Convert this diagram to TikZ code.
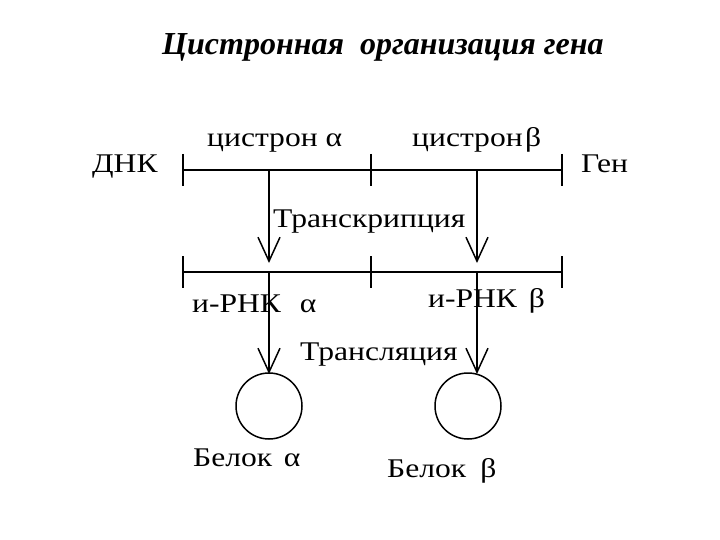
\documentclass[tikz,border=0pt]{standalone}
\usepackage{fontspec}
\usepackage{graphicx}
\setmainfont{Liberation Serif}
\usetikzlibrary{arrows.meta,calc}
\newcommand{\wide}[1]{\scalebox{1.17}[1]{#1}}
\tikzset{
  lab/.style={anchor=base west, inner sep=0pt, font=\fontsize{27}{27}\selectfont},
  ttl/.style={anchor=base, inner sep=0pt, font=\fontsize{32}{32}\selectfont\bfseries\itshape},
  ln/.style={line width=1.5pt},
  arr/.style={line width=1.5pt, -{Straight Barb[length=24pt,width=22pt,line width=1.5pt]}},
  prot/.style={draw, line width=1.5pt, circle, minimum size=66pt, inner sep=0pt}
}
\begin{document}
\begin{tikzpicture}[x=1pt,y=-1pt]
\useasboundingbox[fill=white] (0,0) rectangle (720,540);
\node[ttl] (title) at (383,55) {Цистронная\ \ организация гена};
% DNA line
\coordinate (dL) at (183,170); \coordinate (dM) at (371,170); \coordinate (dR) at (562,170);
\coordinate (mL) at (183,272); \coordinate (mM) at (371,272); \coordinate (mR) at (562,272);
\draw[ln] (dL) -- (dR);
\draw[ln] (mL) -- (mR);
\foreach \p in {dL,dM,dR,mL,mM,mR} \draw[ln] ($(\p)+(0,-16)$) -- ($(\p)+(0,16)$);
\coordinate (s1) at (269,170); \coordinate (s2) at (477,170);
\coordinate (t1) at (269,263); \coordinate (t2) at (477,263);
\coordinate (u1) at (269,272); \coordinate (u2) at (477,272);
\node[prot] (p1) at (269,406) {};
\node[prot] (p2) at (468,406) {};
\coordinate (v1) at (269,374); \coordinate (v2) at (477,374);
\draw[arr] (s1) -- (t1);
\draw[arr] (s2) -- (t2);
\draw[arr] (u1) -- (v1);
\draw[arr] (u2) -- (v2);
% labels
\node[lab] (dnk) at (92,173) {\wide{ДНК}};
\node[lab] (gen) at (581,173) {\wide{Ген}};
\node[lab] (ca) at (207,147) {\wide{цистрон α}};
\node[lab] (cb) at (412,147) {\wide{цистрон\hspace{2pt}β}};
\node[lab] (tr) at (273,228) {\wide{Транскрипция}};
\node[lab] (ma) at (192,312) {\wide{и-РНК\hspace{16pt}α}};
\node[lab] (mb) at (428,307) {\wide{и-РНК\hspace{10pt}β}};
\node[lab] (tl) at (300,360) {\wide{Трансляция}};
\node[lab] (ba) at (193,466) {\wide{Белок\hspace{10pt}α}};
\node[lab] (bb) at (387,477) {\wide{Белок\hspace{12pt}β}};
\end{tikzpicture}
\end{document}
